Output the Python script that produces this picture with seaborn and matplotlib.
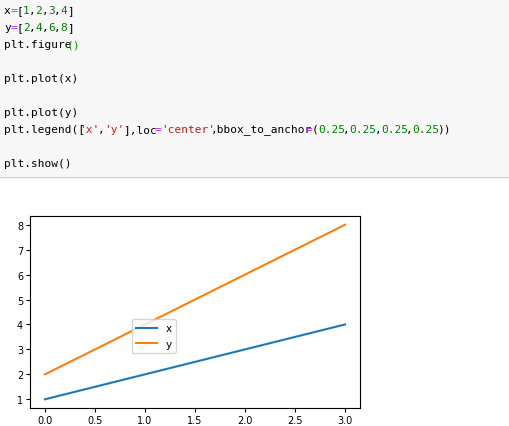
import matplotlib
matplotlib.use("Agg")
import matplotlib.pyplot as plt
import seaborn as sns
import pandas as pd

x = [1, 2, 3, 4]
y = [2, 4, 6, 8]
labels = ['x', 'y']

W, H = 509, 427
fig = plt.figure(figsize=(W/100, H/100), dpi=100)
fig.patch.set_facecolor('white')
fig.add_artist(plt.Rectangle((0, 1-177/H), 1, 177/H, transform=fig.transFigure,
                             facecolor='#f7f7f7', edgecolor='none'))
fig.add_artist(plt.Line2D([0, 1], [1-178/H]*2, transform=fig.transFigure, color='#d0d0d0', lw=1))

K, P, G, R = '#000000', '#aa22ff', '#008000', '#ba2121'
code = [
    [("x", K), ("=", P), ("[", K), ("1", G), (",", K), ("2", G), (",", K), ("3", G), (",", K), ("4", G), ("]", K)],
    [("y", K), ("=", P), ("[", K), ("2", G), (",", K), ("4", G), (",", K), ("6", G), (",", K), ("8", G), ("]", K)],
    [("plt.figure", K), ("()", '#00aa00')],
    [],
    [("plt.plot(x)", K)],
    [],
    [("plt.plot(y)", K)],
    [("plt.legend([", K), ("'x'", R), (",", K), ("'y'", R), ("],loc", K), ("=", P), ("'center'", R),
     (",bbox_to_anchor", K), ("=", P), ("(", K), ("0.25", G), (",", K), ("0.25", G), (",", K),
     ("0.25", G), (",", K), ("0.25", G), ("))", K)],
    [],
    [("plt.show()", K)],
]
cw = 6.28
for i, line in enumerate(code):
    yc = 11 + 17*i
    col = 0
    for txt, c in line:
        fig.text((4 + col*cw)/W, 1 - yc/H, txt, color=c, fontsize=8,
                 family='DejaVu Sans Mono', va='center', ha='left')
        col += len(txt)

ax = fig.add_axes([30/W, 18/H, 330/W, 172/H + 20/H])
df = pd.DataFrame({'idx': range(len(x)), 'x': x, 'y': y})
sns.lineplot(data=df, x='idx', y='x', ax=ax, color='#1f77b4', lw=1.5)
sns.lineplot(data=df, x='idx', y='y', ax=ax, color='#ff7f0e', lw=1.5)
ax.set_xlabel(''); ax.set_ylabel('')
ax.set_xticks([0, 0.5, 1, 1.5, 2, 2.5, 3])
ax.set_xticklabels(['0.0', '0.5', '1.0', '1.5', '2.0', '2.5', '3.0'])
ax.set_yticks(range(1, 9))
ax.set_xlim(-0.15, 3.15)
ax.set_ylim(0.65, 8.35)
ax.tick_params(labelsize=7, length=3, pad=2)
ax.legend(ax.get_lines(), labels, loc='center', bbox_to_anchor=(0.25, 0.25, 0.25, 0.25), fontsize=7.5)
fig.savefig('out.png', dpi=100)
